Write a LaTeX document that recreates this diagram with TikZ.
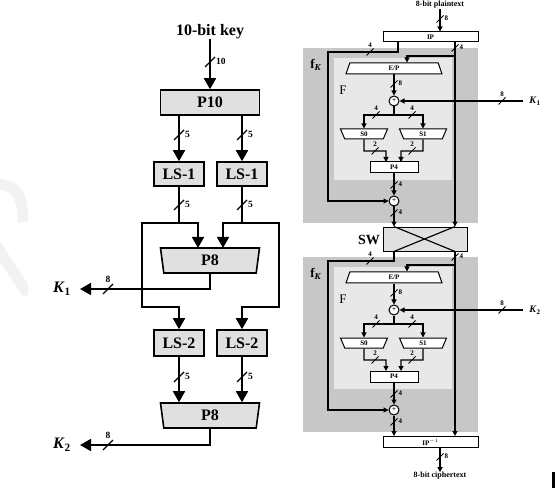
\documentclass[tikz,border=0pt]{standalone}
\usepackage{fontspec}
\setmainfont{Liberation Serif}
\usetikzlibrary{positioning, shapes.geometric, arrows.meta}

\definecolor{keyfill}{gray}{0.88}
\definecolor{roundfill}{gray}{0.78}
\definecolor{fnfill}{gray}{0.91}
\definecolor{markgray}{gray}{0.95}

\newcommand{\cutlen}{3.5}

\tikzset{
  wire/.style={line width=1.8pt},
  bigarrow/.style={wire, -{Triangle[length=11pt, width=12pt]}},
  keybox/.style={draw, line width=1.6pt, fill=keyfill, inner sep=0pt, font=\fontsize{16}{18}\selectfont\bfseries},
  keytrap/.style={keybox, trapezium, trapezium left angle=107, trapezium right angle=107,
    trapezium stretches body, minimum width=99pt, minimum height=25pt},
  bigtext/.style={inner sep=0pt, font=\fontsize{16}{18}\selectfont\bfseries},
  thinwire/.style={line width=1.15pt},
  smallarrow/.style={thinwire, -{Triangle[length=5pt, width=5pt]}},
  rbox/.style={draw, line width=1pt, fill=white, inner sep=0pt, font=\fontsize{7}{8}\selectfont\bfseries},
  eptrap/.style={rbox, trapezium, trapezium left angle=51, trapezium right angle=51,
    trapezium stretches body, minimum width=96pt, minimum height=11pt},
  strap/.style={rbox, trapezium, trapezium left angle=132, trapezium right angle=132,
    trapezium stretches body, minimum width=47pt, minimum height=10pt},
  xor/.style={circle, draw, line width=1pt, fill=white, inner sep=0pt, minimum size=10pt,
    font=\fontsize{7}{7}\selectfont\bfseries},
  smalltext/.style={inner sep=0pt, font=\fontsize{8}{9}\selectfont\bfseries},
  paneltext/.style={inner sep=0pt, font=\fontsize{13}{14}\selectfont},
  cutstroke/.style={line width=0.9pt},
  cutnum/.style={inner sep=0.8pt, font=\fontsize{7}{8}\selectfont\bfseries},
  vcut/.pic={\draw[cutstroke] (-\cutlen,\cutlen) -- (\cutlen,-\cutlen);
    \node[cutnum, anchor=west] (-n) at (\cutlen,-1) {#1};},
  hcut/.pic={\draw[cutstroke] (-\cutlen,\cutlen) -- (\cutlen,-\cutlen);
    \node[cutnum, anchor=south] (-n) at (0,-\cutlen) {#1};},
}

\begin{document}
\begin{tikzpicture}[x=1pt, y=-1pt]
\useasboundingbox (0,0) rectangle (555,492);

% faint mark at the left edge
\begin{scope}
\clip (0,170) rectangle (28,300);
\draw[markgray, line width=11pt] (-5,184) .. controls (18,184) and (23,198) .. (23,222);
\draw[markgray, line width=11pt] (-5,244) -- (28,294);
\end{scope}

% key generation
\begin{scope}[cutstroke/.style={line width=1.3pt},
  cutnum/.style={inner sep=1pt, font=\fontsize{9.5}{10}\selectfont\bfseries}]
\renewcommand{\cutlen}{5}
\node[bigtext] (key) at (210,32) {10-bit key};
\node[keybox, minimum width=99pt, minimum height=25pt] (P10) at (210,102.5) {P10};
\node[keybox, minimum width=50pt, minimum height=24pt] (LSa) at (179,174) {LS-1};
\node[keybox, minimum width=50pt, minimum height=24pt] (LSb) at (242,174) {LS-1};
\node[keytrap] (P8a) at (210,260.5) {P8};
\node[keybox, minimum width=50pt, minimum height=26pt] (LSc) at (179,343) {LS-2};
\node[keybox, minimum width=50pt, minimum height=26pt] (LSd) at (242,343) {LS-2};
\node[keytrap] (P8b) at (210,415.5) {P8};
\node[bigtext] (Ka) at (62,289) {\textit{K}\textsubscript{1}};
\node[bigtext] (Kb) at (62,445) {\textit{K}\textsubscript{2}};
\coordinate (ja) at (179,223);
\coordinate (jb) at (242,223);
\coordinate (ia) at (198,248);
\coordinate (ib) at (223,248);
\coordinate (oa) at (142,307);
\coordinate (ob) at (279,307);

\draw[bigarrow] (key) -- (P10);
\draw[bigarrow] (P10.south -| LSa) -- (LSa);
\draw[bigarrow] (P10.south -| LSb) -- (LSb);
\draw[wire] (LSa) -- (ja);
\draw[wire] (LSb) -- (jb);
\draw[bigarrow] (ja) -| (ia);
\draw[bigarrow] (jb) -| (ib);
\draw[bigarrow] (ja) -| (oa) -| (LSc);
\draw[bigarrow] (jb) -| (ob) -| (LSd);
\draw[bigarrow] (LSc) -- (LSc |- P8b.north);
\draw[bigarrow] (LSd) -- (LSd |- P8b.north);
\draw[bigarrow] (P8a.south) |- ([xshift=9pt]Ka.east);
\draw[bigarrow] (P8b.south) |- ([xshift=9pt]Kb.east);

\pic (cutkey) at (210,62) {vcut=10};
\pic (cutPa) at (179,135) {vcut=5};
\pic (cutPb) at (242,135) {vcut=5};
\pic (cutLa) at (179,205) {vcut=5};
\pic (cutLb) at (242,205) {vcut=5};
\pic (cutMa) at (179,377) {vcut=5};
\pic (cutMb) at (242,377) {vcut=5};
\pic (cutKa) at (108,289) {hcut=8};
\pic (cutKb) at (108,445) {hcut=8};
\end{scope}

% encryption
\node[smalltext] (ptext) at (440,5) {8-bit plaintext};
\node[rbox, minimum width=95pt, minimum height=10pt] (IP) at (430.5,37) {IP};
\node[draw, line width=0.9pt, fill=keyfill, inner sep=0pt,
  minimum width=84pt, minimum height=24pt] (SW) at (425,239) {};
\node[inner sep=0pt, font=\fontsize{14}{15}\selectfont\bfseries] (SWname) at (369,240) {SW};
\node[rbox, minimum width=95pt, minimum height=11pt] (IPi) at (430.5,442) {IP$^{-1}$};
\node[smalltext] (ctext) at (440,476) {8-bit ciphertext};
\coordinate (railR) at (455,0);

\draw[smallarrow] (ptext) -- (ptext |- IP.north);
\draw[smallarrow] (IPi.south -| ctext) -- (ctext);
\pic (cutin) at (440,19) {vcut=8};
\pic (cutout) at (440,457) {vcut=8};

\foreach \rnd/\src/\dst/\lx/\dy in {1/IP/SW/398/0, 2/SW/IPi/394/209}{
\begin{scope}[shift={(0,\dy)}]
  \fill[roundfill] (303,48) rectangle (478,223);
  \fill[fnfill] (334,58) rectangle (452,180);
  \node[paneltext] (fk\rnd) at (316,65) {\textbf{f\textsubscript{\textit{K}}}};
  \node[paneltext] (F\rnd) at (343,90) {F};
  \node[eptrap] (EP\rnd) at (394,68.5) {E/P};
  \node[xor] (XA\rnd) at (394,101) {+};
  \node[strap] (SA\rnd) at (364,134) {S0};
  \node[strap] (SB\rnd) at (423,134) {S1};
  \node[rbox, minimum width=48pt, minimum height=11pt] (PF\rnd) at (394,167.5) {P4};
  \node[xor] (XB\rnd) at (394,201) {+};
  \node[inner sep=0pt, font=\fontsize{10}{11}\selectfont\bfseries] (KR\rnd) at (535,101)
    {\textit{K}\textsubscript{\rnd}};
  \coordinate (tap\rnd) at (\lx,52);
  \coordinate (turn\rnd) at (328,52);
  \coordinate (epin\rnd) at (407,56);
  \coordinate (kin\rnd) at (523,101);
  \coordinate (split\rnd) at (394,115);
  \coordinate (sa\rnd) at (364,151);
  \coordinate (sb\rnd) at (423,151);
  \coordinate (pa\rnd) at (386,162);
  \coordinate (pb\rnd) at (401,162);

  \draw[smallarrow] (\src.south -| tap\rnd) |- (turn\rnd) |- (XB\rnd);
  \draw[smallarrow] (\src.south -| railR) -- (\dst.north -| railR);
  \draw[smallarrow] (epin\rnd -| railR) -| (epin\rnd |- EP\rnd.north);
  \draw[smallarrow] (EP\rnd) -- (XA\rnd);
  \draw[smallarrow] (kin\rnd) -- (XA\rnd);
  \draw[smallarrow] (XA\rnd) -- (split\rnd) -| (SA\rnd.north);
  \draw[smallarrow] (split\rnd) -| (SB\rnd.north);
  \draw[smallarrow] (SA\rnd.south) -- (sa\rnd) -| (pa\rnd);
  \draw[smallarrow] (SB\rnd.south) -- (sb\rnd) -| (pb\rnd);
  \draw[smallarrow] (PF\rnd) -- (XB\rnd);
  \draw[smallarrow] (XB\rnd) -- (XB\rnd |- \dst.north);

  \pic (cutL\rnd) at (370,52) {hcut=4};
  \pic (cutR\rnd) at (455,48) {vcut=4};
  \pic (cutE\rnd) at (394,84) {vcut=8};
  \pic (cutK\rnd) at (502,101) {hcut=8};
  \pic (cutSa\rnd) at (376,115) {hcut=4};
  \pic (cutSb\rnd) at (412,115) {hcut=4};
  \pic (cutTa\rnd) at (375,151) {hcut=2};
  \pic (cutTb\rnd) at (412,151) {hcut=2};
  \pic (cutP\rnd) at (394,185) {vcut=4};
  \pic (cutX\rnd) at (394,213) {vcut=4};
\end{scope}
}
\draw[thinwire] (SW.north -| XB1) -- (SW.south -| railR);
\draw[thinwire] (SW.north -| railR) -- (SW.south -| XB1);

\fill (552,472) rectangle (555,488);
\end{tikzpicture}
\end{document}
